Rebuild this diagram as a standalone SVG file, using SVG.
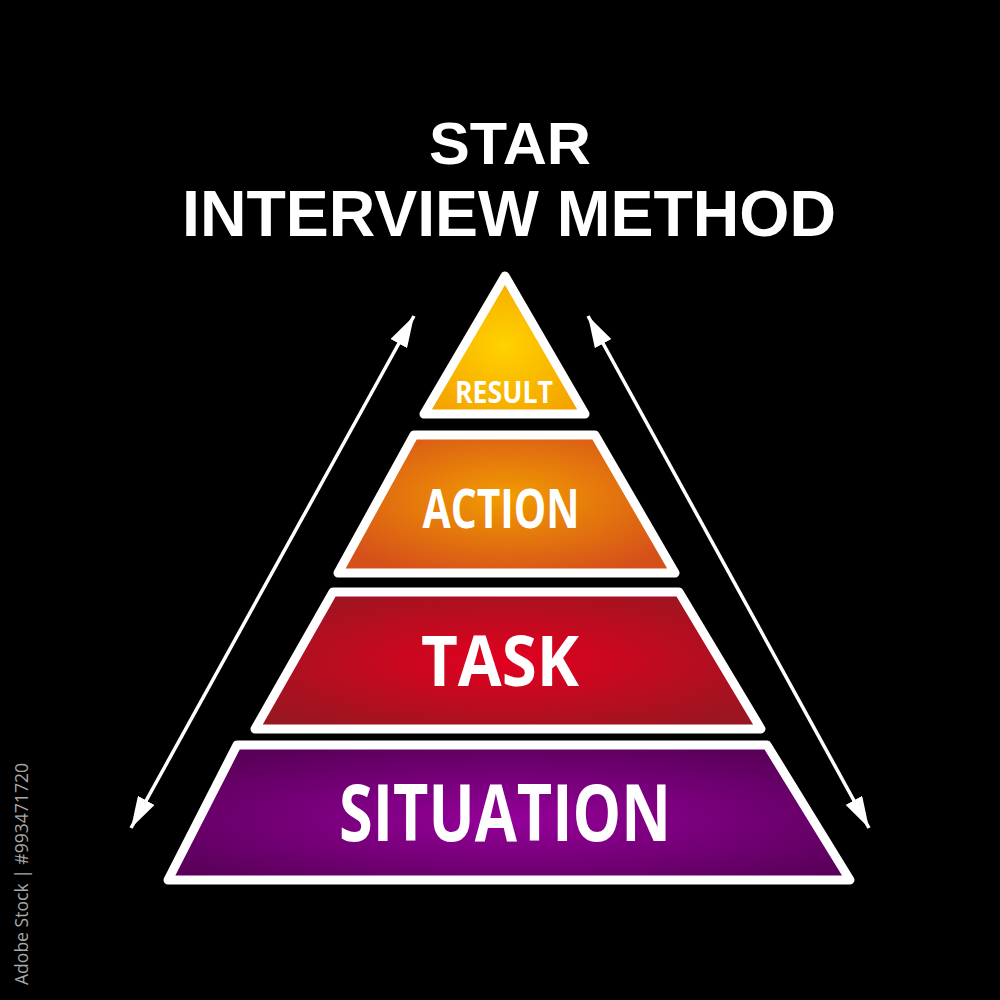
<svg xmlns="http://www.w3.org/2000/svg" width="1000" height="1000" viewBox="0 0 1000 1000">
  <defs>
    <radialGradient id="gR" cx="0.5" cy="0.5" r="0.6">
      <stop offset="0" stop-color="#ffd200"/>
      <stop offset="1" stop-color="#f4a300"/>
    </radialGradient>
    <radialGradient id="gA" cx="0.5" cy="0.45" r="0.6">
      <stop offset="0" stop-color="#f29c00"/>
      <stop offset="1" stop-color="#d6511a"/>
    </radialGradient>
    <radialGradient id="gT" cx="0.5" cy="0.5" r="0.6">
      <stop offset="0" stop-color="#e3001f"/>
      <stop offset="1" stop-color="#9a1620"/>
    </radialGradient>
    <radialGradient id="gS" cx="0.5" cy="0.55" r="0.6">
      <stop offset="0" stop-color="#95009a"/>
      <stop offset="1" stop-color="#5a005a"/>
    </radialGradient>
    <marker id="ah" viewBox="0 0 10 6" refX="10" refY="3" markerWidth="9" markerHeight="5.4" markerUnits="strokeWidth" orient="auto-start-reverse">
      <path d="M0,0 L10,3 L0,6 Z" fill="#ffffff"/>
    </marker>
    <style>
      .layer { stroke: #ffffff; stroke-width: 9; stroke-linejoin: round; }
      .lbl { font-family: "Open Sans", "Noto Sans", "Liberation Sans", sans-serif; font-weight: 700; fill: #ffffff; text-anchor: middle; }
      .title { font-family: "Liberation Sans", "DejaVu Sans", sans-serif; font-weight: 700; fill: #ffffff; text-anchor: middle; }
      .conn { stroke: #ffffff; stroke-width: 3.5; fill: none; }
    </style>
  </defs>
  <rect x="0" y="0" width="1000" height="1000" fill="#000000"/>

  <g id="title">
    <text class="title" x="510" y="164" font-size="60" textLength="162" lengthAdjust="spacingAndGlyphs">STAR</text>
    <text class="title" x="509" y="236" font-size="65" textLength="654" lengthAdjust="spacingAndGlyphs">INTERVIEW METHOD</text>
  </g>

  <g id="connectors">
    <line class="conn" x1="414" y1="316" x2="131" y2="828" marker-start="url(#ah)" marker-end="url(#ah)"/>
    <line class="conn" x1="588" y1="316" x2="869" y2="828" marker-start="url(#ah)" marker-end="url(#ah)"/>
  </g>

  <g id="result">
    <polygon class="layer" fill="url(#gR)" points="505,276 424,414 585,414"/>
    <text class="lbl" x="504" y="403" font-size="30" textLength="98" lengthAdjust="spacingAndGlyphs">RESULT</text>
  </g>

  <g id="action">
    <polygon class="layer" fill="url(#gA)" points="414,435 595,435 675,573 338,573"/>
    <text class="lbl" x="501" y="528" font-size="53" textLength="157" lengthAdjust="spacingAndGlyphs">ACTION</text>
  </g>

  <g id="task">
    <polygon class="layer" fill="url(#gT)" points="333,592 679,592 761,729 255,729"/>
    <text class="lbl" x="500" y="686" font-size="70" textLength="158" lengthAdjust="spacingAndGlyphs">TASK</text>
  </g>

  <g id="situation">
    <polygon class="layer" fill="url(#gS)" points="237,745 767,745 850,880 168,880"/>
    <text class="lbl" x="505" y="841" font-size="78" textLength="332" lengthAdjust="spacingAndGlyphs">SITUATION</text>
  </g>

  <text x="0" y="0" transform="translate(28,985) rotate(-90)" font-family="Open Sans, Noto Sans, sans-serif" font-size="18" fill="#a8a8a8" textLength="222" lengthAdjust="spacingAndGlyphs">Adobe Stock | #993471720</text>
</svg>
